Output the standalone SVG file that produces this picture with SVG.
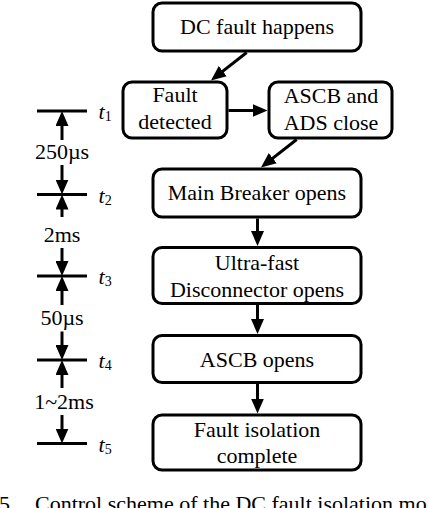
<svg xmlns="http://www.w3.org/2000/svg" width="430" height="508" viewBox="0 0 430 508">
<style>
.box{fill:#fff;stroke:#000;stroke-width:3}
.lbl{font-family:'Liberation Serif','Times New Roman',serif;font-size:22px;fill:#000;text-anchor:middle}
.tl{font-family:'Liberation Serif','Times New Roman',serif;font-size:22px;fill:#000}
.ln{stroke:#000;stroke-width:3;fill:none}
.ar{stroke:#000;stroke-width:3;fill:none;marker-end:url(#ah)}
</style>
<defs>
<marker id="ah" viewBox="0 0 15 13" refX="10" refY="6.5" markerWidth="15" markerHeight="13" markerUnits="userSpaceOnUse" orient="auto">
<path d="M0,0 L15,6.5 L0,13 z" fill="#000"/>
</marker>
</defs>
<rect width="430" height="508" fill="#fff"/>
<g id="n1"><rect class="box" x="153" y="3" width="208" height="48" rx="9"/><text class="lbl" x="257" y="34">DC fault happens</text></g>
<g id="n2"><rect class="box" x="123" y="82" width="104" height="56" rx="9"/><text class="lbl" x="175" y="102">Fault</text><text class="lbl" x="175" y="129">detected</text></g>
<g id="n3"><rect class="box" x="269" y="82" width="123" height="56" rx="9"/><text class="lbl" x="331" y="102.5">ASCB and</text><text class="lbl" x="331" y="129.5">ADS close</text></g>
<g id="n4"><rect class="box" x="153" y="169" width="208" height="48" rx="9"/><text class="lbl" x="257" y="200">Main Breaker opens</text></g>
<g id="n5"><rect class="box" x="153" y="247.5" width="208" height="56" rx="9"/><text class="lbl" x="257" y="269.5">Ultra-fast</text><text class="lbl" x="257" y="296.5">Disconnector opens</text></g>
<g id="n6"><rect class="box" x="153" y="335.5" width="208" height="47" rx="9"/><text class="lbl" x="257" y="366.5">ASCB opens</text></g>
<g id="n7"><rect class="box" x="153" y="415" width="208" height="55" rx="9"/><text class="lbl" x="257" y="437">Fault isolation</text><text class="lbl" x="257" y="463">complete</text></g>
<g id="connectors">
<line class="ar" x1="246.7" y1="52.5" x2="214.9" y2="77.4"/>
<line class="ar" x1="228.5" y1="110.5" x2="262.5" y2="110.5"/>
<line class="ar" x1="296.7" y1="139.5" x2="264.9" y2="164.4"/>
<line class="ar" x1="257.5" y1="218.5" x2="257.5" y2="241"/>
<line class="ar" x1="257.5" y1="305" x2="257.5" y2="329"/>
<line class="ar" x1="257.5" y1="384" x2="257.5" y2="408.5"/>
</g>
<g id="timeline">
<line class="ln" x1="37" y1="111" x2="87" y2="111"/>
<line class="ln" x1="37" y1="194.5" x2="87" y2="194.5"/>
<line class="ln" x1="37" y1="276" x2="87" y2="276"/>
<line class="ln" x1="37" y1="360" x2="87" y2="360"/>
<line class="ln" x1="37" y1="443.5" x2="87" y2="443.5"/>
<line class="ar" x1="62" y1="140" x2="62" y2="116"/>
<line class="ar" x1="62" y1="165" x2="62" y2="189.5"/>
<line class="ar" x1="62" y1="217" x2="62" y2="199.5"/>
<line class="ar" x1="62" y1="248" x2="62" y2="271"/>
<line class="ar" x1="62" y1="305" x2="62" y2="281"/>
<line class="ar" x1="62" y1="331.5" x2="62" y2="355"/>
<line class="ar" x1="62" y1="388" x2="62" y2="365"/>
<line class="ar" x1="62" y1="415" x2="62" y2="438.5"/>
<text class="lbl" x="62" y="159">250µs</text>
<text class="lbl" x="62" y="241.5">2ms</text>
<text class="lbl" x="62" y="325">50µs</text>
<text class="lbl" x="64" y="409">1~2ms</text>
<text class="tl" x="98.5" y="119"><tspan font-style="italic">t</tspan><tspan font-size="14" dy="2">1</tspan></text>
<text class="tl" x="98.5" y="202.5"><tspan font-style="italic">t</tspan><tspan font-size="14" dy="2">2</tspan></text>
<text class="tl" x="98.5" y="284"><tspan font-style="italic">t</tspan><tspan font-size="14" dy="2">3</tspan></text>
<text class="tl" x="98.5" y="368"><tspan font-style="italic">t</tspan><tspan font-size="14" dy="2">4</tspan></text>
<text class="tl" x="98.5" y="451.5"><tspan font-style="italic">t</tspan><tspan font-size="14" dy="2">5</tspan></text>
</g>
<g id="caption">
<text class="tl" x="-1" y="510.5">5</text>
<text class="tl" x="35" y="510.5">Control scheme of the DC fault isolation mo</text>
</g>
</svg>
